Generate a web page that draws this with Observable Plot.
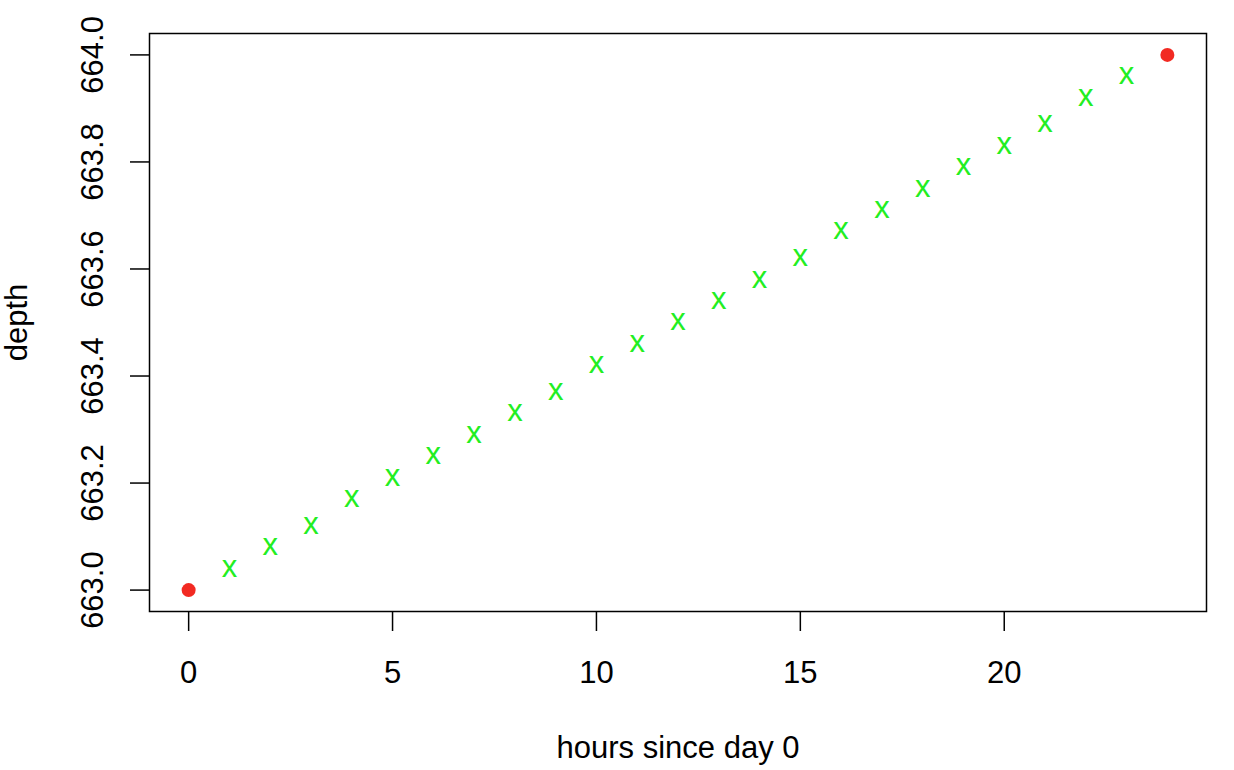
<!DOCTYPE html>
<html>
<head>
<meta charset="utf-8">
<script src="https://cdn.jsdelivr.net/npm/d3@7"></script>
<script src="https://cdn.jsdelivr.net/npm/@observablehq/plot@0.6"></script>
<style>
  html, body { margin: 0; padding: 0; background: #fff; }
  #chart svg { display: block; }
</style>
</head>
<body>
<div id="chart"></div>
<script>
// Endpoints (red dots)
const endHours = [0, 24];
const endDepths = [663.0, 664.0];

// Intermediate hourly estimates (green x)
const midHours = [1, 2, 3, 4, 5, 6, 7, 8, 9, 10, 11, 12, 13, 14, 15, 16, 17, 18, 19, 20, 21, 22, 23];
const midDepths = [663.04, 663.08, 663.12, 663.17, 663.21, 663.25, 663.29, 663.33, 663.37, 663.42, 663.46, 663.50,
                   663.54, 663.58, 663.62, 663.67, 663.71, 663.75, 663.79, 663.83, 663.87, 663.92, 663.96];

const xTicks = [0, 5, 10, 15, 20];
const yTicks = [663.0, 663.2, 663.4, 663.6, 663.8, 664.0];
const xLabel = "hours since day 0";
const yLabel = "depth";

const ends = endHours.map((h, i) => ({h, d: endDepths[i]}));
const mids = midHours.map((h, i) => ({h, d: midDepths[i]}));

const FS = 31;
const font = "'Liberation Sans', Arial, Helvetica, sans-serif";

const chart = Plot.plot({
  width: 1234,
  height: 770,
  marginLeft: 149,
  marginRight: 28,
  marginTop: 33,
  marginBottom: 159,
  style: {fontFamily: font, background: "#fff", color: "#000"},
  x: {domain: [-0.96, 24.96]},
  y: {domain: [662.96, 664.04]},
  marks: [
    Plot.frame({stroke: "#000", strokeWidth: 1.5}),
    Plot.axisX({ticks: xTicks, tickSize: 20, tickPadding: 29, fontSize: FS, label: null, strokeWidth: 1.5}),
    Plot.axisY({ticks: yTicks, tickSize: 19, tickFormat: () => "", label: null, strokeWidth: 1.5}),
    Plot.text(yTicks, {y: d => d, text: d => d.toFixed(1), frameAnchor: "left", dx: -56,
      rotate: -90, textAnchor: "middle", lineAnchor: "middle", fontSize: FS, fill: "#000"}),
    Plot.text([xLabel], {text: d => d, frameAnchor: "bottom", dy: 137, textAnchor: "middle",
      lineAnchor: "middle", fontSize: FS, fill: "#000"}),
    Plot.text([yLabel], {text: d => d, frameAnchor: "left", dx: -132, rotate: -90, textAnchor: "middle",
      lineAnchor: "middle", fontSize: FS, fill: "#000"}),
    Plot.text(mids, {x: "h", y: "d", text: () => "x", fontSize: FS, fill: "#22ee22",
      textAnchor: "middle", lineAnchor: "middle", dy: -2}),
    Plot.dot(ends, {x: "h", y: "d", r: 7, fill: "#f22a22", stroke: "none"})
  ]
});
document.getElementById("chart").appendChild(chart);
</script>
</body>
</html>
